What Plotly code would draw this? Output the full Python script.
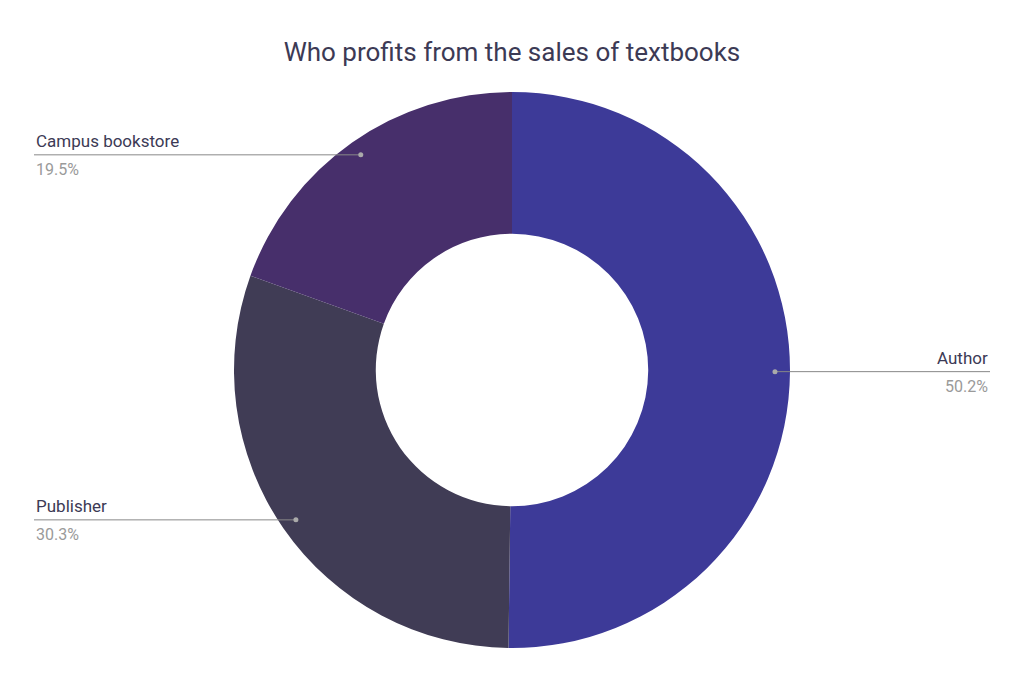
import math
import plotly.graph_objects as go

labels = ["Author", "Publisher", "Campus bookstore"]
values = [50.2, 30.3, 19.5]
colors = ["#3d3a98", "#403c55", "#472f6b"]

W, H = 1024, 683
OFF = 8  # page body margin compensation
cx, cy, R = 512 - OFF, 370 - OFF, 278
fig = go.Figure(go.Pie(
    labels=labels, values=values, hole=0.49, sort=False, direction="clockwise",
    rotation=0, marker=dict(colors=colors, line=dict(width=0)),
    textinfo="none", hoverinfo="label+percent",
    domain=dict(x=[(cx - R) / W, (cx + R) / W], y=[1 - (cy + R) / H, 1 - (cy - R) / H]),
))

total = sum(values)
cum = 0
shapes, annots = [], []
X = lambda p: p / W
Y = lambda p: 1 - p / H
for lab, v in zip(labels, values):
    mid = (cum + v / 2) / total * 2 * math.pi
    cum += v
    r = R * 0.946
    px = cx + r * math.sin(mid)
    py = cy - r * math.cos(mid)
    right = math.sin(mid) > 0
    ex = (990 if right else 34) - OFF
    shapes.append(dict(type="line", xref="paper", yref="paper", x0=X(px), y0=Y(py), x1=X(ex), y1=Y(py),
                       line=dict(color="#888888", width=1)))
    shapes.append(dict(type="circle", xref="paper", yref="paper", x0=X(px - 2.5), x1=X(px + 2.5),
                       y0=Y(py + 2.5), y1=Y(py - 2.5), fillcolor="#aaaaaa", line=dict(width=0)))
    anchor = "right" if right else "left"
    annots.append(dict(xref="paper", yref="paper", x=X(ex), y=Y(py - 2), text=lab, showarrow=False,
                       xanchor=anchor, yanchor="bottom", font=dict(size=17, color="#3c3a55")))
    annots.append(dict(xref="paper", yref="paper", x=X(ex), y=Y(py + 3), text=f"{v:.1f}%", showarrow=False,
                       xanchor=anchor, yanchor="top", font=dict(size=16, color="#9a9a9a")))

fig.update_layout(
    width=W, height=H, margin=dict(l=0, r=0, t=0, b=0), showlegend=False,
    paper_bgcolor="white", font=dict(family="Roboto"),
    title=dict(text="Who profits from the sales of textbooks", x=X(512 - OFF), xanchor="center",
               y=Y(52 - OFF), yanchor="middle", font=dict(size=26, color="#3c3a55")),
    shapes=shapes, annotations=annots,
)
fig.write_html("out.html")
